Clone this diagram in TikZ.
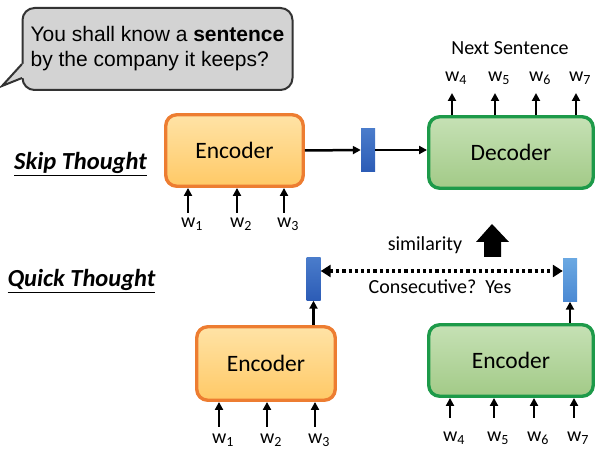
\documentclass[tikz,border=0pt]{standalone}
\usepackage{fontspec}
\setmainfont{Carlito}
\newfontfamily\bubblefont{Liberation Sans}
\usetikzlibrary{arrows.meta}
\definecolor{orangeline}{HTML}{ED7D31}
\definecolor{orangetop}{HTML}{FFE3A6}
\definecolor{orangebot}{HTML}{FFC966}
\definecolor{greenline}{HTML}{1D9A49}
\definecolor{greentop}{HTML}{C6E1B5}
\definecolor{greenbot}{HTML}{A2CA87}
\definecolor{bartop}{HTML}{4A7CCB}
\definecolor{barbot}{HTML}{2C5CB6}
\definecolor{lbartop}{HTML}{6AA8E2}
\definecolor{lbarbot}{HTML}{4B89D3}
\definecolor{bubblegray}{HTML}{D3D3D3}

\begin{document}
\begin{tikzpicture}[x=1pt,y=-1pt,
    box/.style={rounded corners=11pt,line width=3.4pt,font=\fontsize{23.5}{28}\selectfont},
    encoder/.style={box,draw=orangeline,top color=orangetop,bottom color=orangebot},
    decoder/.style={box,draw=greenline,top color=greentop,bottom color=greenbot},
    vec/.style={inner sep=0pt,minimum width=14pt,minimum height=43pt,top color=bartop,bottom color=barbot},
    word/.style={inner sep=0pt,font=\fontsize{20}{24}\selectfont},
    label/.style={inner sep=0pt,font=\fontsize{20}{24}\selectfont},
    title/.style={inner sep=0pt,font=\fontsize{24.5}{28}\selectfont\bfseries\itshape},
    feed/.style={line width=2.5pt,-{Triangle[length=8pt,width=8pt]}},
    simline/.style={line width=3.4pt,dash pattern=on 3.2pt off 3pt,
      {Triangle[length=10pt,width=12pt]}-{Triangle[length=10pt,width=12pt]}}]
  \useasboundingbox (0,0) rectangle (603,454);

  % speech bubble
  \node[draw=black!80,line width=2pt,fill=bubblegray,rounded corners=12pt,
    minimum width=270pt,minimum height=82pt,align=left,
    font=\bubblefont\fontsize{21}{25}\selectfont] (quote) at (157.5,49)
    {You shall know a \textbf{sentence}\\by the company it keeps?};
  \fill[bubblegray] (26,64) -- (22,64) -- (2,86) -- (22,78) -- (26,78) -- cycle;
  \draw[black!80,line width=2pt] (22,64) -- (2,86) -- (22,78);

  \node[title] (skip) at (80.5,164) {\underline{Skip Thought}};
  \node[title] (quick) at (81.5,281) {\underline{Quick Thought}};

  % skip thought
  \node[encoder,minimum width=137.5pt,minimum height=71.5pt] (enc) at (234.5,150.5) {Encoder};
  \node[vec] (vs) at (368,150) {};
  \node[decoder,minimum width=164.5pt,minimum height=71.5pt] (dec) at (511,152.5) {Decoder};
  \node[label] (next) at (510,48) {Next Sentence};
  \draw[feed] (enc.east) -- (vs.west);
  \draw[feed] (vs.east) -- (vs.east -| dec.west);
  \foreach \x/\i in {188/1,237/2,284/3} {
    \coordinate (sa\i) at (\x,213);
    \node[word] (sw\i) at (\x+4,224) {w\textsubscript{\i}};
    \draw[feed] (sa\i) -- (sa\i |- enc.south);
  }
  \foreach \x/\i in {452/4,495/5,536/6,576/7} {
    \coordinate (da\i) at (\x,93);
    \node[word] (dw\i) at (\x+4,78) {w\textsubscript{\i}};
    \draw[feed] (da\i |- dec.north) -- (da\i);
  }

  % quick thought
  \node[encoder,minimum width=138.5pt,minimum height=73.5pt] (encl) at (266,363.5) {Encoder};
  \node[decoder,minimum width=164.5pt,minimum height=71.5pt] (encr) at (511,360.5) {Encoder};
  \node[vec] (vl) at (313.5,279) {};
  \node[vec,top color=lbartop,bottom color=lbarbot] (vr) at (570,280) {};
  \draw[feed] (vl.south |- encl.north) -- (vl.south);
  \draw[feed] (vr.south |- encr.north) -- (vr.south);
  \draw[simline] ([yshift=8pt]vl.east) -- ([yshift=8pt]vl.east -| vr.west);
  \node[label] (sim) at (425,245) {similarity};
  \node[label] (cons) at (440,287) {Consecutive?\ \ Yes};
  \fill (492,224) -- (509,242) -- (501,242) -- (501,257) -- (484,257) -- (484,242) -- (476,242) -- cycle;
  \foreach \x/\i in {219/1,267/2,315/3} {
    \coordinate (la\i) at (\x,427);
    \node[word] (lw\i) at (\x+4,440) {w\textsubscript{\i}};
    \draw[feed] (la\i) -- (la\i |- encl.south);
  }
  \foreach \x/\i in {450/4,494/5,534/6,574/7} {
    \coordinate (ra\i) at (\x,418);
    \node[word] (rw\i) at (\x+4,438) {w\textsubscript{\i}};
    \draw[feed] (ra\i) -- (ra\i |- encr.south);
  }
\end{tikzpicture}
\end{document}
